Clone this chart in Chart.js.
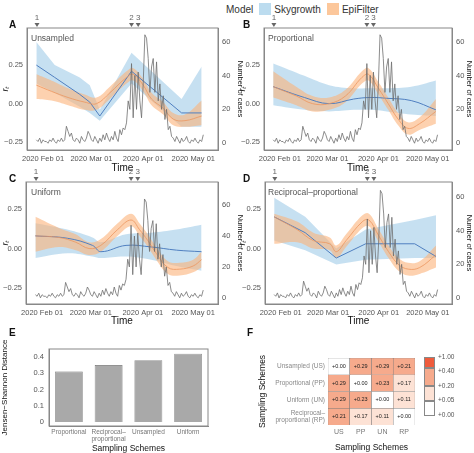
<!DOCTYPE html>
<html>
<head>
<script src="https://cdn.jsdelivr.net/npm/chart.js@4"></script>
<style>
  body { margin: 0; width: 474px; height: 453px; position: relative; background: #fff; font-family: "Liberation Sans", Arial, sans-serif; overflow: hidden; }
  canvas { position: absolute; }
  .lab { position: absolute; font-weight: bold; font-size: 10px; color: #111; }
  .inner { position: absolute; font-size: 8.5px; color: #555; }
  .legend { position: absolute; top: 3px; left: 226px; font-size: 10px; color: #333; display: flex; align-items: center; }
  .legend span.box { display: inline-block; width: 12px; height: 12px; margin: 0 3px 0 6px; }
  .cb { position: absolute; left: 424px; width: 11px; border: 0.5px solid #888; box-sizing: border-box; }
  .cbl { position: absolute; left: 438px; font-size: 6.5px; color: #555; }
</style>
</head>
<body>
<div class="legend">Model <span class="box" style="background:#bcdcef"></span>Skygrowth <span class="box" style="background:#fcc79b"></span>EpiFilter</div>

<canvas id="cA" style="left:0;top:0" width="245" height="174"></canvas>
<canvas id="cB" style="left:237px;top:0" width="237" height="174"></canvas>
<canvas id="cC" style="left:0;top:155px" width="245" height="172"></canvas>
<canvas id="cD" style="left:237px;top:155px" width="237" height="172"></canvas>
<canvas id="cE" style="left:0;top:330px" width="230" height="123"></canvas>
<canvas id="cF" style="left:258px;top:330px" width="216" height="123"></canvas>

<div class="lab" style="left:9px;top:19px">A</div>
<div class="lab" style="left:243px;top:19px">B</div>
<div class="lab" style="left:9px;top:173px">C</div>
<div class="lab" style="left:243px;top:173px">D</div>
<div class="lab" style="left:9px;top:327px">E</div>
<div class="lab" style="left:247px;top:327px">F</div>

<div class="inner" style="left:31px;top:33px">Unsampled</div>
<div class="inner" style="left:268px;top:33px">Proportional</div>
<div class="inner" style="left:31px;top:187px">Uniform</div>
<div class="inner" style="left:268px;top:187px">Reciprocal–proportional</div>

<div class="cb" style="top:357px;height:11px;background:#ef5b3c"></div>
<div class="cb" style="top:368px;height:18px;background:#f6aa8c"></div>
<div class="cb" style="top:386px;height:15px;background:#fde2d5"></div>
<div class="cb" style="top:401px;height:15px;background:#fff"></div>
<div class="cbl" style="top:353px">+1.00</div>
<div class="cbl" style="top:367px">+0.40</div>
<div class="cbl" style="top:382px">+0.20</div>
<div class="cbl" style="top:396px">+0.05</div>
<div class="cbl" style="top:411px">+0.00</div>

<script>
// days counted from 2020 Feb 01
const caseStart = -4;
const cases = [2,1,3,0,2,1,1,0,2,1,3,1,0,2,1,3,1,2,10,
  7,4,6,2,1,3,2,0,4,2,1,3,7,5,2,1,4,2,0,3,1,5,2,6,3,1,4,2,7,3,1,8,5,9,
  8,12,25,20,47,15,40,20,42,25,15,35,64,62,50,30,45,50,30,48,25,35,20,28,14,20,8,10,4,
  3,1,4,2,0,3,1,2,4,1,0,2,1,3,1,0,2,1,5];
const dateTicks = [0, 29, 60, 90];
const dateLabels = ['2020 Feb 01', '2020 Mar 01', '2020 Apr 01', '2020 May 01'];
const markerDays = [-3.6, 53, 57];
const markerLabels = ['1', '2', '3'];

// Skygrowth knots: [day, mean, lower, upper]
const skyA = [[-4,.25,.13,.40],[7,.17,.07,.25],[22,.06,-.02,.17],[28,.01,-.06,.12],[34,-.08,-.11,-.04],[53,.21,.13,.33],[83,-.06,-.15,.03],[95,-.06,-.15,.24]];
const skyB = [[-4,.11,-.01,.26],[15,.04,-.04,.18],[30,0,-.05,.12],[45,.03,-.04,.10],[55,.04,-.04,.10],[65,.035,-.05,.10],[80,.02,-.07,.11],[95,-.04,-.08,.15]];
const skyC = [[-4,.08,-.06,.16],[15,.065,-.03,.12],[30,.02,-.05,.07],[35,-.02,-.06,.04],[50,.02,-.05,.09],[65,.01,-.07,.10],[80,-.01,-.11,.12],[95,-.02,-.14,.15]];
const skyD = [[-4,.20,.05,.32],[15,.10,-.01,.20],[34,-.06,-.10,.0],[52,.03,-.07,.12],[82,.03,-.06,.18],[95,-.05,-.06,.21]];
// EpiFilter knots: [day, mean, lower, upper]
const epiA = [[-4,.12,.03,.19],[5,.08,.02,.15],[15,.04,-.01,.10],[25,.01,-.04,.06],[32,0,-.04,.04],[40,.07,.03,.11],[50,.17,.13,.21],[54,.19,.15,.23],[60,.12,.08,.16],[65,.03,-.01,.07],[72,-.03,-.07,.01],[78,-.10,-.14,-.06],[85,-.11,-.15,-.07],[95,-.08,-.14,.02]];
const epiB = [[-4,.11,.04,.21],[10,.05,-.01,.11],[20,.0,-.05,.05],[30,0,-.04,.04],[40,.05,.01,.09],[50,.17,.13,.21],[54,.19,.15,.23],[60,.10,.06,.14],[66,0,-.04,.04],[72,-.10,-.14,-.06],[78,-.16,-.20,-.12],[85,-.13,-.17,-.09],[95,-.05,-.13,.03]];
const epiC = [[-4,.08,-.02,.20],[10,.07,.01,.13],[20,.04,-.01,.09],[28,0,-.04,.04],[35,.02,-.02,.06],[45,.12,.08,.16],[53,.18,.14,.22],[58,.12,.08,.16],[63,.05,.01,.09],[68,-.03,-.07,.01],[75,-.12,-.16,-.08],[82,-.13,-.17,-.09],[90,-.11,-.15,-.07],[95,-.07,-.12,-.02]];
const epiD = [[-4,.20,.03,.22],[10,.12,.04,.17],[20,.05,.0,.10],[30,.03,-.01,.07],[34,-.02,-.06,.02],[40,.05,.01,.09],[50,.17,.13,.21],[54,.18,.14,.22],[60,.08,.04,.12],[66,-.02,-.06,.02],[72,-.10,-.14,-.06],[78,-.13,-.17,-.09],[85,-.12,-.16,-.08],[95,-.04,-.12,.02]];

const schemes = ['Proportional', ['Reciprocal–', 'proportional'], 'Unsampled', 'Uniform'];
const jsd = [0.31, 0.35, 0.38, 0.42];

const codes = ['US', 'PP', 'UN', 'RP'];
const rowLabels = ['Unsampled (US)', 'Proportional (PP)', 'Uniform (UN)', ['Reciprocal–', 'proportional (RP)']];
const dist = [
  [0, .29, .29, .21],
  [.29, 0, .23, .17],
  [.29, .23, 0, .11],
  [.21, .17, .11, 0]
];

const FONT = '"Liberation Sans", Arial, sans-serif';
const tickFont = { family: FONT, size: 7.5 };
const grey = '#555';

const pts = (k, i) => k.map(r => ({ x: r[0], y: r[i] }));

const frame = {
  id: 'frame',
  afterDraw(chart) {
    const a = chart.chartArea, ctx = chart.ctx;
    ctx.save();
    ctx.strokeStyle = '#888';
    ctx.lineWidth = 1;
    ctx.strokeRect(a.left, a.top, a.right - a.left, a.bottom - a.top);
    ctx.restore();
  }
};

const markers = {
  id: 'markers',
  afterDraw(chart) {
    const { ctx, chartArea, scales } = chart;
    ctx.save();
    ctx.fillStyle = '#666';
    ctx.font = '8px ' + FONT;
    ctx.textAlign = 'center';
    markerDays.forEach((d, i) => {
      const x = scales.x.getPixelForValue(d);
      ctx.fillText(markerLabels[i], x, chartArea.top - 8);
      ctx.beginPath();
      ctx.moveTo(x - 2.5, chartArea.top - 5);
      ctx.lineTo(x + 2.5, chartArea.top - 5);
      ctx.lineTo(x, chartArea.top - 1);
      ctx.fill();
    });
    ctx.restore();
  }
};

function panel(id, sky, epi, opt) {
  const smoothSky = opt.smooth ? 0.4 : 0;
  new Chart(document.getElementById(id), {
    type: 'line',
    data: {
      datasets: [
        { data: cases.map((c, i) => ({ x: caseStart + i, y: c })), yAxisID: 'y2', borderColor: '#6f6f6f', borderWidth: 0.8, pointRadius: 0, tension: 0 },
        { data: pts(epi, 1), borderColor: 'rgba(236,150,95,0.8)', borderWidth: 1, pointRadius: 0, tension: 0.4 },
        { data: pts(sky, 1), borderColor: '#4f7fc0', borderWidth: 1, pointRadius: 0, tension: smoothSky },
        { data: pts(epi, 2), borderWidth: 0, pointRadius: 0, tension: 0.4 },
        { data: pts(epi, 3), borderWidth: 0, pointRadius: 0, tension: 0.4, fill: 3, backgroundColor: 'rgba(251,178,122,0.6)' },
        { data: pts(sky, 2), borderWidth: 0, pointRadius: 0, tension: smoothSky },
        { data: pts(sky, 3), borderWidth: 0, pointRadius: 0, tension: smoothSky, fill: 5, backgroundColor: 'rgba(160,204,232,0.6)' }
      ]
    },
    options: {
      responsive: false, animation: false,
      layout: { padding: { top: opt.top } },
      plugins: { legend: { display: false }, tooltip: { enabled: false } },
      scales: {
        x: {
          type: 'linear', min: -9.6, max: 104.8,
          afterBuildTicks: s => { s.ticks = dateTicks.map(v => ({ value: v })); },
          afterFit: s => { s.height = opt.xh; },
          ticks: { callback: (v, i) => dateLabels[i], font: tickFont, color: grey, maxRotation: 0, padding: 1 },
          grid: { display: false, drawTicks: true, tickLength: 3, color: '#888' },
          border: { color: '#888' },
          title: { display: true, text: 'Time', font: { family: FONT, size: 10 }, color: '#111', padding: 0 }
        },
        y: {
          min: opt.ymin, max: opt.ymax,
          afterBuildTicks: s => { s.ticks = [-0.25, 0, 0.25].map(v => ({ value: v })); },
          afterFit: s => { s.width = opt.lw; },
          ticks: { callback: v => v < 0 ? '−0.25' : v.toFixed(2), font: tickFont, color: grey, padding: 1 },
          grid: { display: false, tickLength: 3, color: '#888' },
          border: { color: '#888' },
          title: { display: true, text: 'rₜ', font: { family: FONT, size: 9, style: 'italic' }, color: '#111', padding: 0 }
        },
        y2: {
          position: 'right', min: opt.cmin, max: opt.cmax,
          afterBuildTicks: s => { s.ticks = [0, 20, 40, 60].map(v => ({ value: v })); },
          afterFit: s => { s.width = opt.rw; },
          ticks: { font: tickFont, color: grey, padding: 1 },
          grid: { display: false, tickLength: 3, color: '#888' },
          border: { color: '#888' },
          title: { display: true, text: 'Number of cases', font: { family: FONT, size: 7.5 }, color: '#111', padding: 0 }
        }
      }
    },
    plugins: [markers, frame]
  });
}

panel('cA', skyA, epiA, { top: 28, xh: 24, lw: 27, rw: 27, ymin: -0.30, ymax: 0.49, cmin: -4, cmax: 68 });
panel('cB', skyB, epiB, { top: 28, xh: 24, lw: 27, rw: 22, smooth: true, ymin: -0.30, ymax: 0.49, cmin: -4, cmax: 68 });
panel('cC', skyC, epiC, { top: 27, xh: 23, lw: 26, rw: 27, smooth: true, ymin: -0.35, ymax: 0.42, cmin: -4, cmax: 75 });
panel('cD', skyD, epiD, { top: 27, xh: 23, lw: 28, rw: 22, ymin: -0.35, ymax: 0.42, cmin: -3.6, cmax: 69 });

// E: bar chart
new Chart(document.getElementById('cE'), {
  type: 'bar',
  data: { labels: schemes, datasets: [{ data: jsd, backgroundColor: '#a9a9a9', borderColor: '#666', borderWidth: 0.6, barPercentage: 0.7, categoryPercentage: 1 }] },
  options: {
    responsive: false, animation: false,
    layout: { padding: { top: 19, right: 22 } },
    plugins: { legend: { display: false }, tooltip: { enabled: false } },
    scales: {
      x: {
        afterFit: s => { s.height = 27; },
        ticks: { font: { family: FONT, size: 6.5, lineHeight: 1 }, color: '#777', maxRotation: 0, padding: 1, autoSkip: false },
        grid: { display: false, tickLength: 2, color: '#888' }, border: { color: '#888' },
        title: { display: true, text: 'Sampling Schemes', font: { family: FONT, size: 8.5, lineHeight: 1 }, color: '#111', padding: 0 }
      },
      y: {
        min: -0.025, max: 0.449,
        afterBuildTicks: s => { s.ticks = [0, 0.1, 0.2, 0.3, 0.4].map(v => ({ value: v })); },
        afterFit: s => { s.width = 49; },
        ticks: { callback: v => v === 0 ? '0' : v.toFixed(1), font: tickFont, color: grey, padding: 2 },
        grid: { display: false, tickLength: 3, color: '#888' }, border: { color: '#888' },
        title: { display: true, text: 'Jensen−Shannon Distance', font: { family: FONT, size: 8 }, color: '#111', padding: 0 }
      }
    }
  },
  plugins: [frame]
});

// F: heatmap as stacked bars
const cellColor = v => v >= 0.4 ? '#ef5b3c' : v >= 0.2 ? '#f6aa8c' : v >= 0.05 ? '#fde2d5' : '#ffffff';
const rowsBottomUp = [3, 2, 1, 0];
const cellText = {
  id: 'cellText',
  afterDatasetsDraw(chart) {
    const { ctx } = chart;
    ctx.save();
    ctx.font = '5.5px ' + FONT;
    ctx.fillStyle = '#222';
    ctx.textAlign = 'center';
    ctx.textBaseline = 'middle';
    chart.data.datasets.forEach((ds, di) => {
      chart.getDatasetMeta(di).data.forEach((el, ci) => {
        const v = dist[rowsBottomUp[di]][ci];
        ctx.fillText('+' + v.toFixed(2), el.x, (el.y + el.base) / 2);
      });
    });
    ctx.restore();
  }
};
new Chart(document.getElementById('cF'), {
  type: 'bar',
  data: {
    labels: codes,
    datasets: rowsBottomUp.map(r => ({
      data: [1, 1, 1, 1],
      backgroundColor: dist[r].map(cellColor),
      borderColor: '#777', borderWidth: 0.5,
      barPercentage: 1, categoryPercentage: 1
    }))
  },
  options: {
    responsive: false, animation: false,
    layout: { padding: { top: 28, right: 59 } },
    plugins: { legend: { display: false }, tooltip: { enabled: false } },
    scales: {
      x: {
        stacked: true,
        afterFit: s => { s.height = 28; },
        ticks: { font: { family: FONT, size: 7 }, color: '#777', padding: 3 },
        grid: { display: false, drawTicks: false }, border: { display: false },
        title: { display: true, text: 'Sampling Schemes', font: { family: FONT, size: 8.5 }, color: '#111', padding: 0 }
      },
      y: {
        stacked: true, min: 0, max: 4,
        afterBuildTicks: s => { s.ticks = [0.5, 1.5, 2.5, 3.5].map(v => ({ value: v })); },
        afterFit: s => { s.width = 70; },
        ticks: { callback: (v, i) => rowLabels[3 - i], font: { family: FONT, size: 6.5, lineHeight: 1.1 }, color: '#888', padding: 3 },
        grid: { display: false, drawTicks: false }, border: { display: false },
        title: { display: true, text: 'Sampling Schemes', font: { family: FONT, size: 8.5 }, color: '#111', padding: 0 }
      }
    }
  },
  plugins: [cellText]
});
</script>
</body>
</html>
